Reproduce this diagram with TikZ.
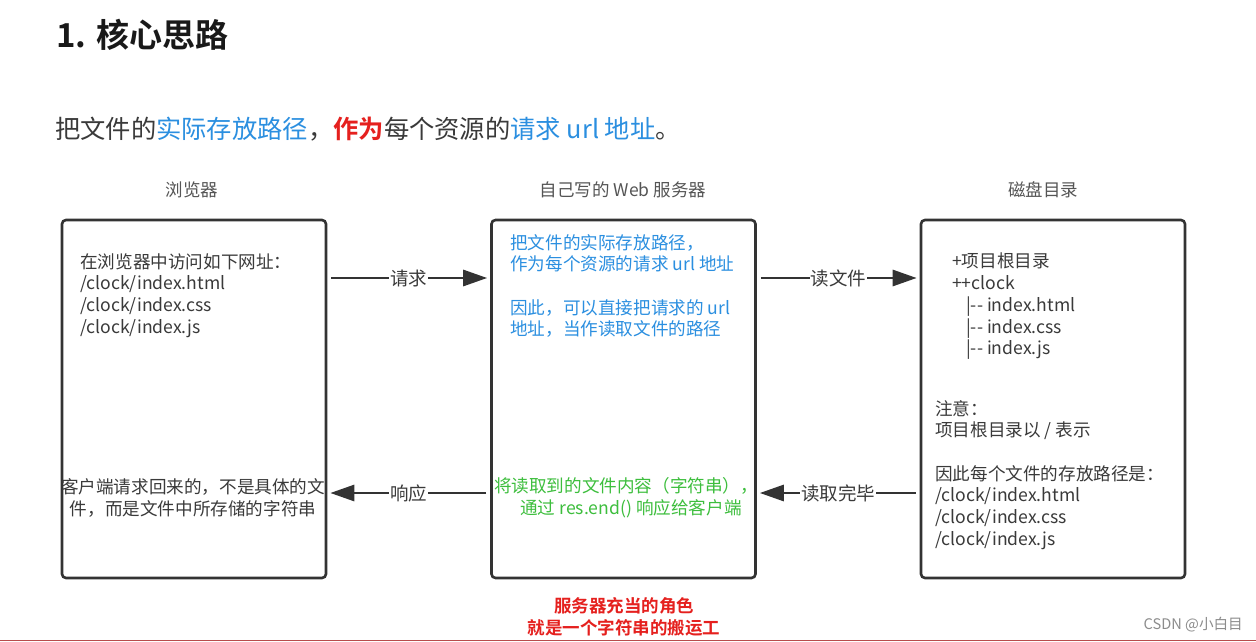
\documentclass[tikz,border=0pt]{standalone}
\usepackage{fontspec}
\setmainfont{Noto Sans CJK SC}[BoldFont={Noto Sans CJK SC Bold}]
\usepackage{xcolor}
\usetikzlibrary{arrows.meta, positioning, calc}
\definecolor{boxgray}{HTML}{333333}
\definecolor{txtgray}{HTML}{3A3A3A}
\definecolor{lblgray}{HTML}{555555}
\definecolor{urlblue}{HTML}{2B8FE0}
\definecolor{okgreen}{HTML}{3DBE3D}
\definecolor{hotred}{HTML}{E5201E}

\begin{document}
\begin{tikzpicture}[
    x=1pt, y=-1pt,
    box/.style={rectangle, draw=boxgray, line width=2.6pt, rounded corners=4pt,
                minimum width=264pt, minimum height=358pt, inner sep=0pt},
    head/.style={font=\fontsize{17.5}{20}\selectfont, text=lblgray},
    txt/.style={anchor=north west, align=left, inner sep=0pt, text=txtgray,
                font=\fontsize{17.6}{21.7}\selectfont},
    mid/.style={align=center, inner sep=0pt, font=\fontsize{17.6}{21.7}\selectfont},
    arr/.style={-{Triangle[length=24pt, width=16pt]}, line width=2.8pt, draw=boxgray,
                shorten <=4pt, shorten >=3pt},
    alabel/.style={fill=white, inner sep=1pt, text=txtgray, font=\fontsize{18.5}{20}\selectfont},
  ]
  \fill[white] (0,0) rectangle (1256,642);
  \useasboundingbox (0,0) rectangle (1256,642);

  % 标题
  \node[anchor=west, inner sep=0pt, font=\fontsize{33}{38}\selectfont\bfseries, text=black!90]
    (title) at (56,35) {1. 核心思路};
  \node[anchor=west, inner sep=0pt, font=\fontsize{25.3}{30}\selectfont, text=txtgray]
    (idea) at (55,129) {把文件的\textcolor{urlblue}{实际存放路径}，\textcolor{hotred}{\bfseries 作为}每个资源的\textcolor{urlblue}{请求 url 地址}。};

  % 三个框
  \node[box] (browser) at (194,399) {};
  \node[box] (server) at (623.5,399) {};
  \node[box] (disk) at (1053,399) {};
  \node[head] (browserlbl) at (192,190) {浏览器};
  \node[head] (serverlbl) at (623,190) {自己写的 Web 服务器};
  \node[head] (disklbl) at (1043,190) {磁盘目录};

  % 浏览器
  \node[txt] (urls) at (80,253) {在浏览器中访问如下网址：\\/clock/index.html\\/clock/index.css\\/clock/index.js};
  \node[mid, text=txtgray] (got) at (193,498) {客户端请求回来的，不是具体的文\\件，而是文件中所存储的字符串};

  % 服务器
  \node[txt, text=urlblue] (rule) at (510,234) {把文件的实际存放路径，\\作为每个资源的请求 url 地址\\[21.7pt]因此，可以直接把请求的 url\\地址，当作读取文件的路径};
  \node[mid, text=okgreen] (send) at (626,498) {将读取到的文件内容（字符串），\\\hspace*{10pt}通过 res.end() 响应给客户端};
  \node[mid, text=hotred, font=\fontsize{17.5}{21.7}\selectfont\bfseries] (role) at (624,617)
    {服务器充当的角色\\就是一个字符串的搬运工};

  % 磁盘
  \node[txt] (tree) at (952,253) {+项目根目录\\++clock\\\hspace*{14pt}|-{}- index.html\\\hspace*{14pt}|-{}- index.css\\\hspace*{14pt}|-{}- index.js};
  \node[txt] (note) at (935,400) {注意：\\项目根目录以 / 表示\\[21.7pt]因此每个文件的存放路径是：\\/clock/index.html\\/clock/index.css\\/clock/index.js};

  % 请求与响应
  \draw[arr] ([yshift=121pt]browser.east) -- node[alabel] {请求} ([yshift=121pt]server.west);
  \draw[arr] ([yshift=121pt]server.east) -- node[alabel] {读文件} ([yshift=121pt]disk.west);
  \draw[arr] ([yshift=-94pt]disk.west) -- node[alabel] {读取完毕} ([yshift=-94pt]server.east);
  \draw[arr] ([yshift=-94pt]server.west) -- node[alabel] {响应} ([yshift=-94pt]browser.east);

  \node[anchor=east, inner sep=0pt, text=black!45, font=\fontsize{14.6}{16}\selectfont] (mark) at (1243,625) {CSDN @小白目};
  \draw[red!60!black!70, line width=1.5pt] (0,640.5) -- (1256,640.5);
\end{tikzpicture}
\end{document}
